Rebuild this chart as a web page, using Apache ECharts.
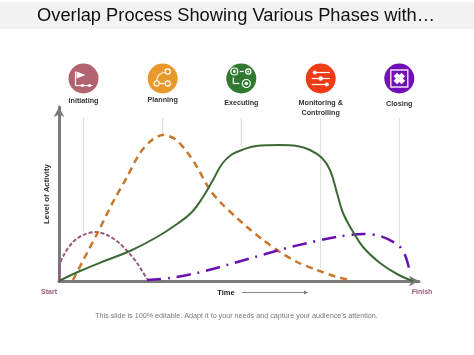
<!DOCTYPE html>
<html>
<head>
<meta charset="utf-8">
<script src="https://cdn.jsdelivr.net/npm/echarts@6/dist/echarts.min.js"></script>
<style>
  html, body { margin: 0; padding: 0; background: #fff; }
  #chart { width: 474px; height: 355px; }
</style>
</head>
<body>
<div id="chart"></div>
<script>
// [time, level of activity]
const initiating = [[0, 1], [0.3, 14], [6, 28], [14, 39], [24, 46], [36, 49], [48, 46], [59, 39], [69, 29], [78, 18], [88, 2]]
const planning = [[14, 1], [28, 28], [39, 49], [54, 79], [68, 104], [81, 128], [93, 141], [104, 146], [116, 142], [128, 129], [138, 114], [151, 91], [164, 76], [178, 63], [188, 54], [204, 41], [221, 29], [238, 19], [258, 11], [278, 4], [290, 1]]
const executing = [[0, 0], [21, 10], [48, 21], [71, 30], [98, 44], [118, 57], [133, 69], [144, 84], [154, 101], [163, 117], [172, 126], [183, 131], [197, 135], [221, 136], [238, 135], [251, 131], [263, 123], [271, 111], [278, 88], [284, 68], [293, 51], [304, 34], [321, 18], [338, 7], [354, 0]]
const closing = [[88, 1], [111, 3], [138, 8], [168, 16], [196, 24], [224, 32], [253, 39], [283, 45], [304, 47], [321, 45], [339, 36], [346, 26], [351, 9]]

const phaseNames = ['Initiating', 'Planning', 'Executing', 'Monitoring &\nControlling', 'Closing']
const phaseX = [24.5, 103.7, 182.3, 261.7, 340.3]
const guideEnds = [49, 146, 134, 13, 36]
const guideTop = 163
const phaseColors = ['#b3626f', '#e8992b', '#2f7a30', '#f03b17', '#7110b8']

const FONT = '"Liberation Sans", Arial, sans-serif'
const chart = echarts.init(document.getElementById('chart'))

const guideData = []
phaseX.forEach((x, i) => {
    guideData.push([x, guideTop], [x, guideEnds[i]], [x, null])
})

chart.setOption({
    animation: false,
    backgroundColor: '#fff',
    grid: { left: 59, top: 107, width: 360, height: 174 },
    xAxis: {
        type: 'value', min: 0, max: 360,
        axisLine: { onZero: false, symbol: ['none', 'arrow'], symbolSize: [8, 10], lineStyle: { color: '#7a7a7a', width: 3 } },
        axisTick: { show: false }, axisLabel: { show: false }, splitLine: { show: false }
    },
    yAxis: {
        type: 'value', min: 0, max: 174,
        name: 'Level of Activity', nameLocation: 'middle', nameRotate: 90, nameGap: 8,
        nameTextStyle: { fontFamily: FONT, fontSize: 7.8, fontWeight: 'bold', color: '#333' },
        axisLine: { show: true, onZero: false, symbol: ['none', 'arrow'], symbolSize: [8, 10], lineStyle: { color: '#7a7a7a', width: 3 } },
        axisTick: { show: false }, axisLabel: { show: false }, splitLine: { show: false }
    },
    series: [
        { name: 'guides', type: 'line', data: guideData, showSymbol: false, z: 1, lineStyle: { color: '#d9d9d9', width: 1 } },
        { name: 'Initiating', type: 'line', data: initiating, smooth: 0.3, showSymbol: false, z: 3, lineStyle: { color: '#9c5a7c', width: 2, type: [4, 2] } },
        { name: 'Planning', type: 'line', data: planning, smooth: 0.3, showSymbol: false, z: 3, lineStyle: { color: '#c9762c', width: 2.5, type: [7, 5] } },
        { name: 'Executing', type: 'line', data: executing, smooth: 0.4, showSymbol: false, z: 4, lineStyle: { color: '#3c6a34', width: 2 } },
        { name: 'Closing', type: 'line', data: closing, smooth: 0.3, showSymbol: false, z: 3, lineStyle: { color: '#6a10b0', width: 2.5, type: [14, 7, 2, 7] } }
    ]
})

const white = { fill: '#fff' }
const whiteLine = { stroke: '#fff', lineWidth: 1.2, fill: 'none' }
const dot = (cx, cy, r) => ({ type: 'circle', shape: { cx, cy, r }, style: white })
const ring = (cx, cy, r) => ({ type: 'circle', shape: { cx, cy, r }, style: whiteLine })
const seg = (x1, y1, x2, y2) => ({ type: 'line', shape: { x1, y1, x2, y2 }, style: whiteLine })

// little white pictures inside the phase circles, relative to the circle centre
const glyphs = [
    [seg(-8, -7, -8, 7), seg(-8, 7, 9, 7), dot(-1, 7, 1.6), dot(6, 7, 1.6),
        { type: 'polygon', shape: { points: [[-7, -7], [2, -3.5], [-7, 0]] }, style: white }],
    [ring(5, -7, 2.6), ring(-6, 5, 2.6), ring(5, 5, 2.6), seg(-3, 5, 2, 5),
        { type: 'arc', shape: { cx: 2, cy: 2, r: 8, startAngle: Math.PI, endAngle: Math.PI * 1.5 }, style: whiteLine }],
    [ring(-7, -7, 3.5), dot(-7, -7, 1.4), ring(7, -7, 2.6), dot(7, -7, 1), ring(5, 5, 4), dot(5, 5, 1.8),
        seg(-1.5, -7, 2.5, -7), seg(-8, -1, -8, 5), seg(-8, 5, -2, 5)],
    [seg(-7, -6, 9, -6), seg(-9, 0, 9, 0), seg(-9, 6, 8, 6), dot(-6, -6, 2), dot(0, 0, 2.2), dot(6, 6, 2)],
    [{ type: 'rect', shape: { x: -8.5, y: -8.5, width: 17, height: 17 }, style: { stroke: '#f0e0fa', lineWidth: 1.4, fill: 'none' } },
        { type: 'line', shape: { x1: -4, y1: -4, x2: 4, y2: 4 }, style: { stroke: '#fff', lineWidth: 5 } },
        { type: 'line', shape: { x1: 4, y1: -4, x2: -4, y2: 4 }, style: { stroke: '#fff', lineWidth: 5 } }]
]
const labelY = [101, 100, 103, 108, 104]

const graphics = [
    { type: 'rect', z: -1, shape: { x: 0, y: 2, width: 474, height: 27 }, style: { fill: '#f2f2f2' } },
    { type: 'text', x: 236, y: 16, style: { text: 'Overlap Process Showing Various Phases with…', font: '18.3px ' + FONT, fill: '#111', align: 'center', verticalAlign: 'middle' } },
    { type: 'text', x: 49, y: 292, style: { text: 'Start', font: 'bold 7px ' + FONT, fill: '#96607a', align: 'center', verticalAlign: 'middle' } },
    { type: 'text', x: 422, y: 292, style: { text: 'Finish', font: 'bold 7px ' + FONT, fill: '#96607a', align: 'center', verticalAlign: 'middle' } },
    { type: 'text', x: 226, y: 293, style: { text: 'Time', font: 'bold 7.5px ' + FONT, fill: '#222', align: 'center', verticalAlign: 'middle' } },
    { type: 'line', shape: { x1: 242, y1: 292.5, x2: 306, y2: 292.5 }, style: { stroke: '#888', lineWidth: 1 } },
    { type: 'polygon', shape: { points: [[308, 292.5], [304, 290.5], [304, 294.5]] }, style: { fill: '#777' } },
    { type: 'text', x: 236.5, y: 316, style: { text: "This slide is 100% editable. Adapt it to your needs and capture your audience's attention.", font: '7.2px ' + FONT, fill: '#777', align: 'center', verticalAlign: 'middle' } }
]

phaseNames.forEach((name, i) => {
    const cx = chart.convertToPixel({ xAxisIndex: 0 }, phaseX[i])
    graphics.push({
        type: 'group', x: cx, y: 78.5,
        children: [{ type: 'circle', shape: { cx: 0, cy: 0, r: 15 }, style: { fill: phaseColors[i] } }].concat(glyphs[i])
    })
    graphics.push({
        type: 'text', x: cx, y: labelY[i],
        style: { text: name, font: 'bold 7.2px ' + FONT, fill: '#333', align: 'center', verticalAlign: 'middle', lineHeight: 10 }
    })
})

chart.setOption({ graphic: graphics })
</script>
</body>
</html>
